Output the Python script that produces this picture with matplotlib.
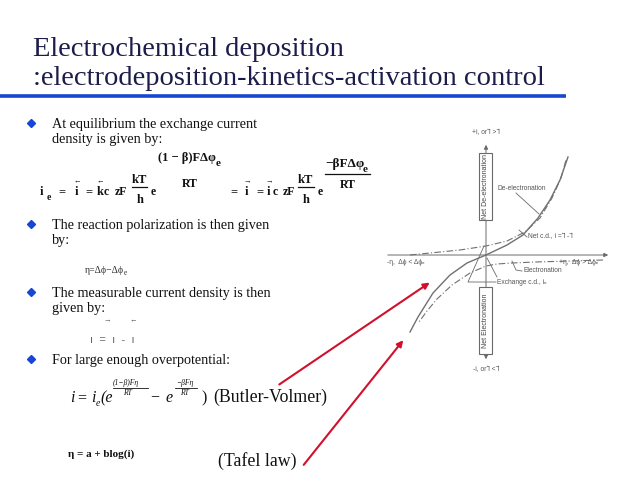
import numpy as np
import matplotlib
matplotlib.use("Agg")
import matplotlib.pyplot as plt
from matplotlib.patches import Rectangle

SERIF = ['Liberation Serif', 'DejaVu Serif']
SANS = ['Liberation Sans', 'DejaVu Sans']
TITLE_COL = '#1c1c4a'
BLUE = '#1646d2'
RED = '#d0102c'
GREY = '#6a6a6a'

title_lines = ["Electrochemical deposition",
               ":electrodeposition-kinetics-activation control"]

bullets = [
    ["At equilibrium the exchange current", "density is given by:"],
    ["The reaction polarization is then given", "by:"],
    ["The measurable current density is then", "given by:"],
    ["For large enough overpotential:"],
]

# sketch curves of the diagram (eta, i) in arbitrary units
net_eta = [-0.76, -0.68, -0.53, -0.36, -0.19, 0.0, 0.21, 0.37, 0.52, 0.64, 0.74, 0.82]
net_i = [-0.77, -0.62, -0.38, -0.20, -0.08, 0.0, 0.10, 0.20, 0.37, 0.55, 0.75, 0.98]
deel_eta = [-0.76, -0.56, -0.26, 0.0, 0.21, 0.39, 0.54, 0.66, 0.75, 0.80]
deel_i = [0.0, 0.02, 0.05, 0.09, 0.14, 0.23, 0.37, 0.57, 0.77, 0.95]
el_eta = [1.17, 0.84, 0.49, 0.26, 0.11, 0.0, -0.16, -0.34, -0.49, -0.59, -0.67]
el_i = [-0.05, -0.06, -0.07, -0.08, -0.09, -0.11, -0.18, -0.30, -0.44, -0.56, -0.67]

fig = plt.figure(figsize=(6.38, 4.78), dpi=100)
ax = fig.add_axes([0, 0, 1, 1])
ax.set_xlim(0, 638)
ax.set_ylim(478, 0)
ax.axis('off')


def txt(x, y, s, size=10.2, fam=SERIF, **kw):
    kw.setdefault('va', 'baseline')
    kw.setdefault('ha', 'left')
    ax.text(x, y, s, fontsize=size, family=fam, **kw)


# title + rule
txt(33, 56, title_lines[0], size=20.5, color=TITLE_COL)
txt(33, 85, title_lines[1], size=20.5, color=TITLE_COL)
ax.plot([0, 566], [95.5, 95.5], color=BLUE, lw=2.6, solid_capstyle='butt')

# bullets
bullet_y = [128, 229, 297, 364]
for y0, lines in zip(bullet_y, bullets):
    ax.plot(31, y0 - 5, marker='D', ms=4.2, color=BLUE, mec=BLUE)
    for k, line in enumerate(lines):
        txt(52, y0 + k * 15, line, color='#111111')

# exchange current equation (bold)
B = dict(weight='bold', color='#111111')
eq1 = [(40, 195, 'i', 9), (47, 200, 'e', 7), (58, 195, '=', 9), (75, 195, 'i', 9),
       (85, 195, '=', 9), (97, 195, 'k', 9), (104, 195, 'c', 8.5), (115, 195, 'zF', 8.5),
       (132, 183, 'kT', 9), (137, 203, 'h', 9), (151, 195, 'e', 8.5),
       (158, 161, '(1 − β)FΔφ', 9), (216, 166, 'e', 8), (182, 187, 'RT', 8.5),
       (230, 195, '=', 9), (245, 195, 'i', 9), (256, 195, '=', 9), (267, 195, 'i', 9),
       (273, 195, 'c', 8.5), (283, 195, 'zF', 8.5), (298, 183, 'kT', 9),
       (303, 203, 'h', 9), (318, 195, 'e', 8.5),
       (325, 167, '−βFΔφ', 9.5), (363, 172, 'e', 8), (340, 188, 'RT', 8.5)]
for x, y, s, sz in eq1:
    txt(x, y, s, size=sz, **B)
for x0, x1, y in [(132, 147, 187), (298, 314, 187), (325, 370, 174)]:
    ax.plot([x0, x1], [y, y], color='#111111', lw=0.9)
for x, s in [(77, '←'), (100, '←'), (247, '→'), (269, '→')]:
    txt(x, 183, s, size=5.5, ha='center', color='#111111')

# polarization
txt(85, 273, 'η=Δϕ−Δϕ', size=7, color='#333333')
txt(123.5, 275, 'e', size=5.5, color='#333333')

# measurable current density
txt(107, 322, '→', size=5.5, ha='center', color='#555555')
txt(133, 322, '←', size=5.5, ha='center', color='#555555')
txt(90, 343, 'ı  =  ı  -  ı', size=8, fam=SANS, color='#666666')

# Butler-Volmer
I = dict(style='italic', color='#111111')
txt(70, 402, 'i', size=11.5, **I)
txt(77, 402, '=', size=11.5, color='#111111')
txt(91, 402, 'i', size=11.5, **I)
txt(96, 406, 'e', size=7, **I)
txt(100, 402, '(e', size=11.5, **I)
txt(113, 385, '(1−β)Fη', size=5.5, **I)
ax.plot([113, 148], [387.5, 387.5], color='#111111', lw=0.6)
txt(123, 395, 'RT', size=5.5, **I)
txt(150, 402, '−', size=11.5, color='#111111')
txt(165, 402, 'e', size=11.5, **I)
txt(176, 385, '−βFη', size=5.5, **I)
ax.plot([175, 197], [387.5, 387.5], color='#111111', lw=0.6)
txt(180, 395, 'RT', size=5.5, **I)
txt(201, 402, ')', size=11.5, color='#111111')
txt(213, 402, '(Butler-Volmer)', size=12.8, color='#111111')

# Tafel
txt(68, 457, 'η = a + blog(i)', size=8, weight='bold', color='#111111')
txt(218, 466, '(Tafel law)', size=12.8, color='#111111')

# diagram frame (axes, boxes, labels)
ax.annotate('', xy=(611, 255), xytext=(385, 255),
            arrowprops=dict(arrowstyle='-|>', color=GREY, lw=0.7, mutation_scale=6))
ax.annotate('', xy=(486, 142), xytext=(486, 362),
            arrowprops=dict(arrowstyle='<|-|>', color=GREY, lw=0.7, mutation_scale=6))
for y0, h, s in [(153, 67, 'Net De-electronation'), (287, 67, 'Net Electronation')]:
    ax.add_patch(Rectangle((479, y0), 13, h, facecolor='white', edgecolor=GREY, lw=0.8, zorder=3))
    ax.text(485.5, y0 + h / 2, s, rotation=90, fontsize=5, family=SANS, color='#444444',
            ha='center', va='center', zorder=4)

L = dict(fam=SANS, size=4.8, color='#555555', va='center')
txt(486, 133, '+i, or i⃖ > i⃗', ha='center', **L)
txt(486, 370, '-i, or i⃖ < i⃗', ha='center', **L)
txt(387, 262, '-η,  Δϕ < Δϕₑ', **L)
txt(559, 262, '+η,  Δϕ > Δϕₑ', **L)
txt(497, 188, 'De-electronation', **L)
txt(528, 237, 'Net c.d., i = i⃖ - i⃗', **L)
txt(523, 271, 'Electronation', **L)
txt(497, 282, 'Exchange c.d., iₑ', **L)
lead = dict(color=GREY, lw=0.6)
ax.plot([516, 539], [193, 214], **lead)
ax.plot([527, 519], [237, 230], **lead)
ax.plot([512, 516, 522], [261, 270, 271], **lead)
ax.plot([484, 468, 496], [246, 282, 282], **lead)
ax.plot([487, 497], [258, 277], **lead)

# curves
dax = fig.add_axes([385 / 638, 1 - 372 / 478, 225 / 638, 239 / 478])
dax.set_xlim(-1.01, 1.24)
dax.set_ylim(-1.17, 1.22)
dax.axis('off')
dax.patch.set_alpha(0)
dax.plot(net_eta, net_i, color='#707070', lw=1.0)
dax.plot(deel_eta, deel_i, color='#707070', lw=0.8, dashes=(6, 2, 1, 2))
dax.plot(el_eta, el_i, color='#707070', lw=0.8, dashes=(6, 2, 1, 2))

# red pointers
for (x0, y0), (x1, y1) in [((277, 386), (432, 281)), ((302, 467), (405, 338))]:
    ax.annotate('', xy=(x1, y1), xytext=(x0, y0),
                arrowprops=dict(arrowstyle='-|>', color=RED, lw=1.5, mutation_scale=9))

fig.savefig('out.png', dpi=100, facecolor='white')
